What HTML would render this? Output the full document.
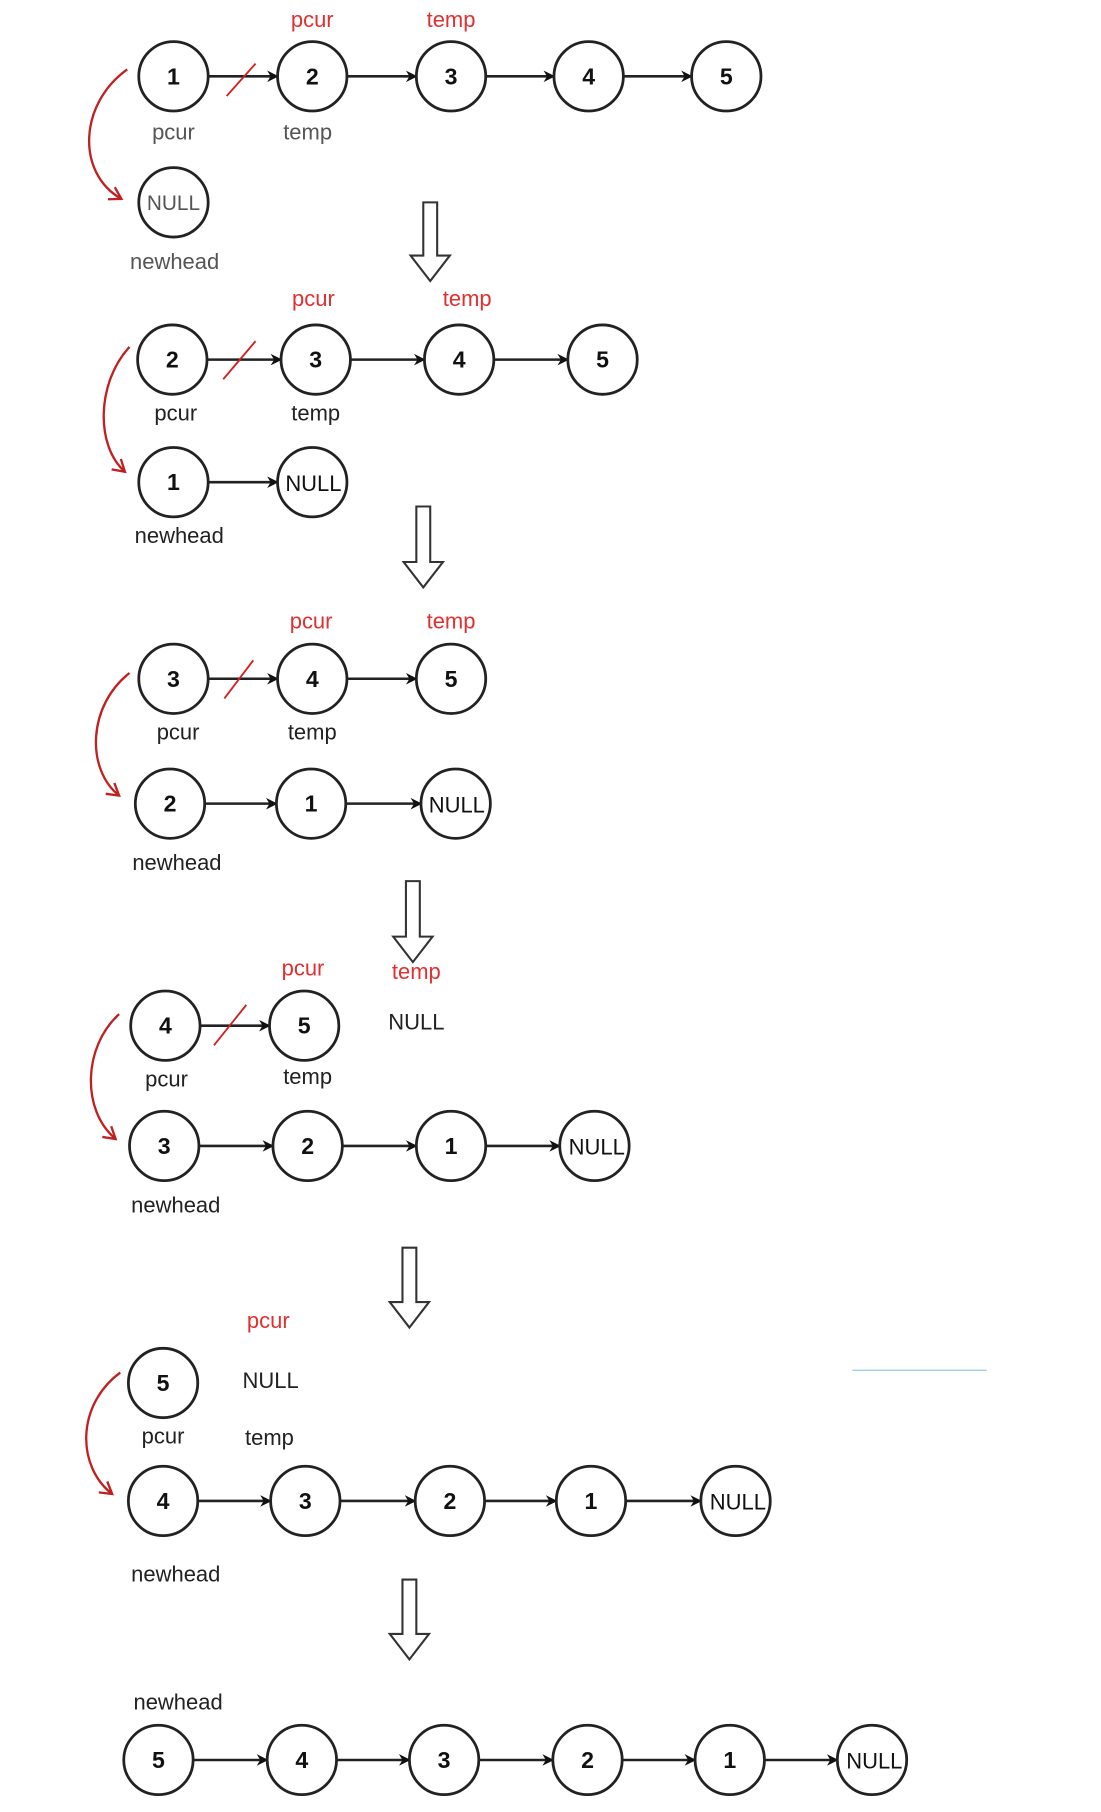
<!DOCTYPE html>
<html><head><meta charset="utf-8"><style>
html,body{margin:0;padding:0;background:#fff;}
svg{display:block;}
.n{fill:#fff;stroke:#222;stroke-width:2.4;}
.t{font-family:"Liberation Sans",sans-serif;font-size:20px;font-weight:bold;text-anchor:middle;dominant-baseline:central;fill:#111;}
.nl{font-family:"Liberation Sans",sans-serif;font-size:19px;text-anchor:middle;dominant-baseline:central;fill:#111;}
.l{font-family:"Liberation Sans",sans-serif;font-size:19px;text-anchor:middle;dominant-baseline:central;fill:#222;}
.g{fill:#555;}
.r{fill:#e03030;}
.e{stroke:#222;stroke-width:2.2;marker-end:url(#ah);}
.s{stroke:#d02020;stroke-width:1.6;}
.c{fill:none;stroke:#c02020;stroke-width:2;marker-end:url(#rh);}
.d{fill:#fff;stroke:#333;stroke-width:1.8;}
</style></head><body>
<svg width="1101" height="1812" viewBox="0 0 952 1567" preserveAspectRatio="none" xmlns="http://www.w3.org/2000/svg">
<defs>
<marker id="ah" markerWidth="10" markerHeight="10" refX="9" refY="5" orient="auto" markerUnits="userSpaceOnUse"><path d="M0,0 L10,5 L0,10 L3,5 z" fill="#111"/></marker>
<marker id="rh" markerWidth="14" markerHeight="14" refX="12" refY="7" orient="auto" markerUnits="userSpaceOnUse"><path d="M2,1 L12,7 L2,13" fill="none" stroke="#c02020" stroke-width="2"/></marker>
</defs>

<!-- Row 1 -->
<text class="l r" x="270" y="17">pcur</text><text class="l r" x="390" y="17">temp</text>
<line class="e" x1="180" y1="66" x2="240" y2="66"/><line class="e" x1="300" y1="66" x2="360" y2="66"/><line class="e" x1="420" y1="66" x2="479" y2="66"/><line class="e" x1="539" y1="66" x2="598" y2="66"/>
<line class="s" x1="196" y1="83" x2="221" y2="55"/>
<circle class="n" cx="150" cy="66" r="30"/><text class="t" x="150" y="66">1</text>
<circle class="n" cx="270" cy="66" r="30"/><text class="t" x="270" y="66">2</text>
<circle class="n" cx="390" cy="66" r="30"/><text class="t" x="390" y="66">3</text>
<circle class="n" cx="509" cy="66" r="30"/><text class="t" x="509" y="66">4</text>
<circle class="n" cx="628" cy="66" r="30"/><text class="t" x="628" y="66">5</text>
<text class="l g" x="150" y="114">pcur</text><text class="l g" x="266" y="114">temp</text>
<circle class="n" cx="150" cy="175" r="30"/><text class="nl g" x="150" y="176" style="font-size:18px">NULL</text>
<text class="l g" x="151" y="226">newhead</text>
<path class="c" d="M110,60 C68,90 66,150 105,172"/>
<polygon class="d" points="366,175 378,175 378,221 389,221 372,243 355,221 366,221"/>

<!-- Row 2 -->
<text class="l r" x="271" y="258">pcur</text><text class="l r" x="404" y="258">temp</text>
<line class="e" x1="179" y1="311" x2="243" y2="311"/><line class="e" x1="303" y1="311" x2="367" y2="311"/><line class="e" x1="427" y1="311" x2="491" y2="311"/>
<line class="s" x1="193" y1="328" x2="221" y2="295"/>
<circle class="n" cx="149" cy="311" r="30"/><text class="t" x="149" y="311">2</text>
<circle class="n" cx="273" cy="311" r="30"/><text class="t" x="273" y="311">3</text>
<circle class="n" cx="397" cy="311" r="30"/><text class="t" x="397" y="311">4</text>
<circle class="n" cx="521" cy="311" r="30"/><text class="t" x="521" y="311">5</text>
<text class="l" x="152" y="357">pcur</text><text class="l" x="273" y="357">temp</text>
<line class="e" x1="180" y1="417" x2="240" y2="417"/>
<circle class="n" cx="150" cy="417" r="30"/><text class="t" x="150" y="417">1</text>
<circle class="n" cx="270" cy="417" r="30"/><text class="nl" x="271" y="418">NULL</text>
<text class="l" x="155" y="463">newhead</text>
<path class="c" d="M112,300 C84,330 82,385 108,408"/>
<polygon class="d" points="360,438 372,438 372,486 383,486 366,508 349,486 360,486"/>

<!-- Row 3 -->
<text class="l r" x="269" y="537">pcur</text><text class="l r" x="390" y="537">temp</text>
<line class="e" x1="180" y1="587" x2="240" y2="587"/><line class="e" x1="300" y1="587" x2="360" y2="587"/>
<line class="s" x1="194" y1="604" x2="219" y2="571"/>
<circle class="n" cx="150" cy="587" r="30"/><text class="t" x="150" y="587">3</text>
<circle class="n" cx="270" cy="587" r="30"/><text class="t" x="270" y="587">4</text>
<circle class="n" cx="390" cy="587" r="30"/><text class="t" x="390" y="587">5</text>
<text class="l" x="154" y="633">pcur</text><text class="l" x="270" y="633">temp</text>
<line class="e" x1="177" y1="695" x2="239" y2="695"/><line class="e" x1="299" y1="695" x2="364" y2="695"/>
<circle class="n" cx="147" cy="695" r="30"/><text class="t" x="147" y="695">2</text>
<circle class="n" cx="269" cy="695" r="30"/><text class="t" x="269" y="695">1</text>
<circle class="n" cx="394" cy="695" r="30"/><text class="nl" x="395" y="696">NULL</text>
<text class="l" x="153" y="746">newhead</text>
<path class="c" d="M112,582 C76,610 74,665 103,688"/>
<polygon class="d" points="351,762 363,762 363,810 374,810 357,832 340,810 351,810"/>

<!-- Row 4 -->
<text class="l r" x="262" y="837">pcur</text><text class="l r" x="360" y="840">temp</text>
<text class="l" x="360" y="884">NULL</text>
<line class="e" x1="173" y1="887" x2="233" y2="887"/>
<line class="s" x1="185" y1="904" x2="213" y2="869"/>
<circle class="n" cx="143" cy="887" r="30"/><text class="t" x="143" y="887">4</text>
<circle class="n" cx="263" cy="887" r="30"/><text class="t" x="263" y="887">5</text>
<text class="l" x="144" y="933">pcur</text><text class="l" x="266" y="931">temp</text>
<line class="e" x1="172" y1="991" x2="236" y2="991"/><line class="e" x1="296" y1="991" x2="360" y2="991"/><line class="e" x1="420" y1="991" x2="484" y2="991"/>
<circle class="n" cx="142" cy="991" r="30"/><text class="t" x="142" y="991">3</text>
<circle class="n" cx="266" cy="991" r="30"/><text class="t" x="266" y="991">2</text>
<circle class="n" cx="390" cy="991" r="30"/><text class="t" x="390" y="991">1</text>
<circle class="n" cx="514" cy="991" r="30"/><text class="nl" x="516" y="992">NULL</text>
<text class="l" x="152" y="1042">newhead</text>
<path class="c" d="M103,877 C72,905 70,960 100,985"/>
<polygon class="d" points="348,1079 360,1079 360,1126 371,1126 354,1148 337,1126 348,1126"/>

<!-- Row 5 -->
<text class="l r" x="232" y="1142">pcur</text>
<circle class="n" cx="141" cy="1196" r="30"/><text class="t" x="141" y="1196">5</text>
<text class="l" x="234" y="1194">NULL</text>
<text class="l" x="141" y="1242">pcur</text><text class="l" x="233" y="1243">temp</text>
<line x1="737" y1="1185" x2="853" y2="1185" stroke="#9ad0e6" stroke-width="1.2"/>
<line class="e" x1="171" y1="1298" x2="234" y2="1298"/><line class="e" x1="294" y1="1298" x2="359" y2="1298"/><line class="e" x1="419" y1="1298" x2="481" y2="1298"/><line class="e" x1="541" y1="1298" x2="606" y2="1298"/>
<circle class="n" cx="141" cy="1298" r="30"/><text class="t" x="141" y="1298">4</text>
<circle class="n" cx="264" cy="1298" r="30"/><text class="t" x="264" y="1298">3</text>
<circle class="n" cx="389" cy="1298" r="30"/><text class="t" x="389" y="1298">2</text>
<circle class="n" cx="511" cy="1298" r="30"/><text class="t" x="511" y="1298">1</text>
<circle class="n" cx="636" cy="1298" r="30"/><text class="nl" x="638" y="1299">NULL</text>
<text class="l" x="152" y="1361">newhead</text>
<path class="c" d="M104,1187 C66,1215 66,1268 97,1292"/>
<polygon class="d" points="348,1366 360,1366 360,1413 371,1413 354,1435 337,1413 348,1413"/>

<!-- Final -->
<text class="l" x="154" y="1472">newhead</text>
<line class="e" x1="167" y1="1522" x2="231" y2="1522"/><line class="e" x1="291" y1="1522" x2="354" y2="1522"/><line class="e" x1="414" y1="1522" x2="478" y2="1522"/><line class="e" x1="538" y1="1522" x2="601" y2="1522"/><line class="e" x1="661" y1="1522" x2="724" y2="1522"/>
<circle class="n" cx="137" cy="1522" r="30"/><text class="t" x="137" y="1522">5</text>
<circle class="n" cx="261" cy="1522" r="30"/><text class="t" x="261" y="1522">4</text>
<circle class="n" cx="384" cy="1522" r="30"/><text class="t" x="384" y="1522">3</text>
<circle class="n" cx="508" cy="1522" r="30"/><text class="t" x="508" y="1522">2</text>
<circle class="n" cx="631" cy="1522" r="30"/><text class="t" x="631" y="1522">1</text>
<circle class="n" cx="754" cy="1522" r="30"/><text class="nl" x="756" y="1523">NULL</text>
</svg>
</body></html>
